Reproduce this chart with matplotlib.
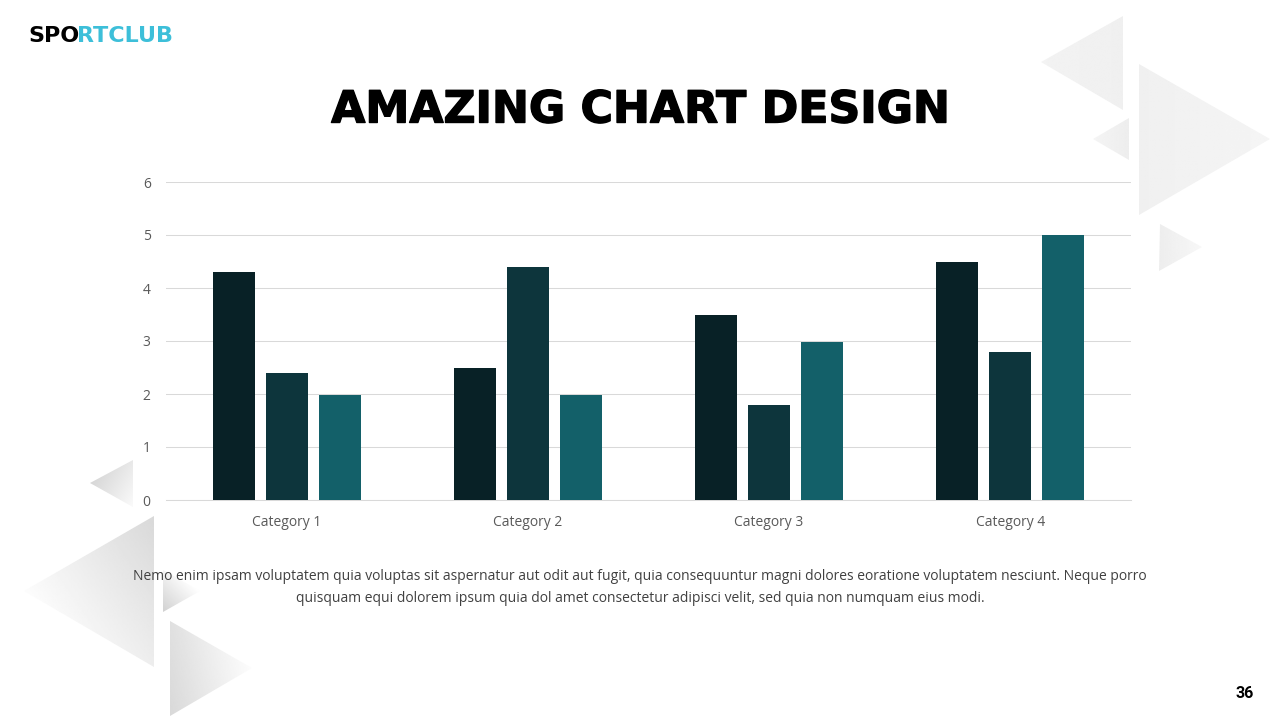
import matplotlib
matplotlib.use("Agg")
import matplotlib.patheffects as pe
import matplotlib.pyplot as plt
import numpy as np
from matplotlib.patches import Polygon

W, H = 1280, 720

categories = ["Category 1", "Category 2", "Category 3", "Category 4"]
series_1 = [4.3, 2.5, 3.5, 4.5]
series_2 = [2.4, 4.4, 1.8, 2.8]
series_3 = [1.98, 1.98, 2.98, 5.0]
y_ticks = [0, 1, 2, 3, 4, 5, 6]
bar_colors = ["#082126", "#0d353c", "#136069"]

body_lines = [
    "Nemo enim ipsam voluptatem quia voluptas sit aspernatur aut odit aut fugit, quia consequuntur magni dolores eoratione voluptatem nesciunt. Neque porro",
    "quisquam equi dolorem ipsum quia dol amet consectetur adipisci velit, sed quia non numquam eius modi.",
]

# points, then gradient start/end grey and gradient direction
triangles = [
    ([(1041, 62), (1123, 16), (1123, 110)], 0.95, 0.94, (1, 0)),
    ([(1139, 64), (1139, 215), (1270, 139)], 0.94, 0.96, (1, 0)),
    ([(1093, 139), (1129, 118), (1129, 160)], 0.96, 0.93, (1, 0)),
    ([(1160, 224), (1159, 271), (1202, 247)], 0.93, 0.97, (1, 0)),
    ([(90, 483), (133, 460), (133, 507)], 0.84, 0.98, (1, 0.6)),
    ([(24, 591), (154, 516), (154, 667)], 0.99, 0.85, (1, -0.7)),
    ([(163, 612), (163, 570), (200, 591)], 0.82, 1.0, (0.7, -0.7)),
    ([(170, 621), (170, 716), (252, 668)], 0.85, 0.99, (1, -0.2)),
]


def draw_triangle(ax, pts, g0, g1, direction):
    pts = np.array(pts, dtype=float)
    x0, y0 = pts.min(axis=0)
    x1, y1 = pts.max(axis=0)
    xx, yy = np.meshgrid(np.linspace(x0, x1, 100), np.linspace(y0, y1, 100))
    t = xx * direction[0] + yy * direction[1]
    corners = pts @ np.array(direction)
    t = (t - corners.min()) / (corners.max() - corners.min())
    img = ax.imshow(g0 + (g1 - g0) * t, cmap="gray", vmin=0, vmax=1,
                    extent=(x0, x1, y1, y0), aspect="auto", zorder=1)
    patch = Polygon(pts, closed=True, transform=ax.transData, fc="none", ec="none")
    ax.add_patch(patch)
    img.set_clip_path(patch)


fig = plt.figure(figsize=(12.8, 7.2), dpi=100, facecolor="white")

# background layer in pixel coordinates
bg = fig.add_axes([0, 0, 1, 1], zorder=0)
for pts, g0, g1, direction in triangles:
    draw_triangle(bg, pts, g0, g1, direction)
bg.set_xlim(0, W)
bg.set_ylim(H, 0)
bg.axis("off")

# chart
ax = fig.add_axes([166 / W, 1 - 500 / H, (1131 - 166) / W, (500 - 182) / H], zorder=2)
ax.patch.set_alpha(0)
x = np.arange(len(categories))
bar_w = 0.174
step = 0.22
for i, vals in enumerate([series_1, series_2, series_3]):
    ax.bar(x + (i - 1) * step, vals, bar_w, color=bar_colors[i], zorder=3)
ax.set_xlim(-0.5, len(categories) - 0.5)
ax.set_ylim(0, 6)
ax.set_yticks(y_ticks)
ax.set_xticks(x)
ax.set_xticklabels(categories)
ax.grid(axis="y", color="#d9d9d9", lw=0.75, zorder=0)
ax.tick_params(length=0, labelcolor="#595959", labelsize=10)
ax.tick_params(axis="y", pad=11)
ax.tick_params(axis="x", pad=11)
for lbl in ax.get_xticklabels() + ax.get_yticklabels():
    lbl.set_family("Open Sans")
for s in ["top", "left", "right"]:
    ax.spines[s].set_visible(False)
ax.spines["bottom"].set_color("#d9d9d9")
ax.spines["bottom"].set_linewidth(0.75)

# title, logo, page number, body copy
fig.text(640 / W, 1 - 110 / H, "AMAZING CHART DESIGN", ha="center", va="center",
         family="DejaVu Sans", weight="bold", fontsize=31.8, color="black",
         path_effects=[pe.withStroke(linewidth=1, foreground="black")], zorder=5)
fig.text(28 / W, 1 - 36 / H, "SPO", ha="left", va="center", family="DejaVu Sans",
         weight="bold", fontsize=16, color="black", zorder=5)
fig.text(173 / W, 1 - 36 / H, "RTCLUB", ha="right", va="center", family="DejaVu Sans",
         weight="bold", fontsize=16, color="#3dbfd9", zorder=5)
fig.text(1245 / W, 1 - 694 / H, "36", ha="center", va="center", family="Roboto",
         weight="bold", fontsize=11.5, color="black", zorder=5)
fig.text(640 / W, 1 - 576 / H, body_lines[0], ha="center", va="center", family="Open Sans",
         fontsize=9.98, color="#404040", zorder=5)
fig.text(640 / W, 1 - 599 / H, body_lines[1], ha="center", va="center", family="Open Sans",
         fontsize=9.98, color="#404040", zorder=5)

fig.savefig("out.png", dpi=100)
